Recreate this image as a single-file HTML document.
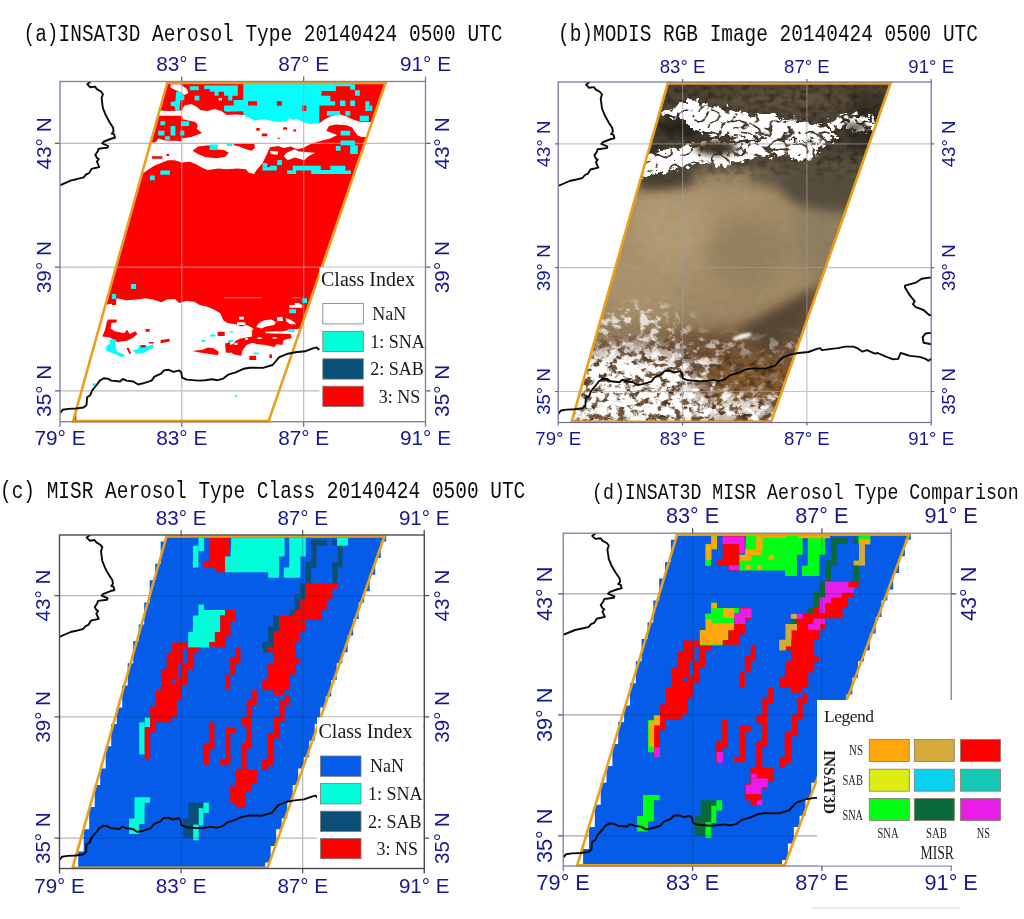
<!DOCTYPE html>
<html lang="en"><head><meta charset="utf-8"><title>Aerosol type comparison</title>
<style>html,body{margin:0;padding:0;background:#fff}svg{display:block}</style></head>
<body>
<svg width="1024" height="919" viewBox="0 0 1024 919">
<rect width="1024" height="919" fill="#fff"/>
<defs>
<clipPath id="fra"><rect x="60" y="81.5" width="365.5" height="340.2"/></clipPath>
<clipPath id="swa"><polygon points="167.2,81.5 385.6,81.5 268.6,421.8 73.1,421.8"/></clipPath>
<clipPath id="frb"><rect x="558.2" y="82" width="373" height="340.5"/></clipPath>
<clipPath id="swb"><polygon points="667.7,82 890.5,82 771.2,422.5 571.6,422.5"/></clipPath>
<clipPath id="frc"><rect x="59.5" y="535" width="364.8" height="333.5"/></clipPath>
<clipPath id="swc"><polygon points="166.5,535 384.4,535 267.7,868.5 72.6,868.5"/></clipPath>
<clipPath id="frd"><rect x="563.2" y="533.2" width="388" height="332.8"/></clipPath>
<clipPath id="swd"><polygon points="677.1,533.2 908.9,533.2 784.7,866 577.2,866"/></clipPath>

<linearGradient id="bg0" gradientUnits="userSpaceOnUse" x1="0" y1="84" x2="0" y2="422">
<stop offset="0" stop-color="#4a4132"/><stop offset="0.08" stop-color="#51483a"/><stop offset="0.2" stop-color="#453d2f"/>
<stop offset="0.235" stop-color="#5e523f"/><stop offset="0.275" stop-color="#8f7b5b"/><stop offset="0.33" stop-color="#a48d68"/>
<stop offset="0.56" stop-color="#a9926c"/><stop offset="0.68" stop-color="#9d8764"/><stop offset="0.76" stop-color="#8b7454"/>
<stop offset="0.84" stop-color="#7a5f40"/><stop offset="1" stop-color="#74583a"/></linearGradient>
<filter id="bl1" x="-30%" y="-80%" width="160%" height="260%"><feGaussianBlur stdDeviation="0.8"/></filter>
<filter id="bl3" x="-50%" y="-80%" width="200%" height="260%"><feGaussianBlur stdDeviation="3"/></filter>
<filter id="bl6" x="-60%" y="-120%" width="220%" height="340%"><feGaussianBlur stdDeviation="6"/></filter>
<filter id="bl10" x="-80%" y="-120%" width="260%" height="340%"><feGaussianBlur stdDeviation="10"/></filter>
<filter id="snow" x="-10%" y="-30%" width="120%" height="160%">
<feTurbulence type="fractalNoise" baseFrequency="0.13 0.16" numOctaves="3" seed="7" result="n"/>
<feDisplacementMap in="SourceGraphic" in2="n" scale="15" xChannelSelector="R" yChannelSelector="G" result="d"/>
<feTurbulence type="turbulence" baseFrequency="0.07 0.09" numOctaves="2" seed="5" result="n2"/>
<feColorMatrix in="n2" type="matrix" values="0 0 0 0 1  0 0 0 0 1  0 0 0 0 1  11 0 0 0 -0.85" result="a"/>
<feComposite in="d" in2="a" operator="in" result="c"/>
<feGaussianBlur in="c" stdDeviation="0.6"/></filter>
<filter id="specks" x="0" y="0" width="100%" height="100%" color-interpolation-filters="sRGB">
<feTurbulence type="fractalNoise" baseFrequency="0.1 0.12" numOctaves="4" seed="11" result="n"/>
<feColorMatrix in="n" type="matrix" values="0 0 0 0 1  0 0 0 0 1  0 0 0 0 1  6 0 0 0 -3.1"/>
<feGaussianBlur stdDeviation="0.6"/></filter>
<filter id="specks2" x="0" y="0" width="100%" height="100%" color-interpolation-filters="sRGB">
<feTurbulence type="fractalNoise" baseFrequency="0.12 0.14" numOctaves="4" seed="23" result="n"/>
<feColorMatrix in="n" type="matrix" values="0 0 0 0 1  0 0 0 0 1  0 0 0 0 1  0 7 0 0 -2.75"/>
<feGaussianBlur stdDeviation="0.6"/></filter>
<filter id="tex" x="0" y="0" width="100%" height="100%" color-interpolation-filters="sRGB">
<feTurbulence type="fractalNoise" baseFrequency="0.12 0.16" numOctaves="3" seed="3" result="n"/>
<feColorMatrix in="n" type="matrix" values="0 0 0 0 0.13  0 0 0 0 0.1  0 0 0 0 0.06  0 0 1.5 0 -0.62"/></filter>
<linearGradient id="mk1" gradientUnits="userSpaceOnUse" x1="0" y1="300" x2="0" y2="422">
<stop offset="0" stop-color="#000"/><stop offset="0.25" stop-color="#555"/><stop offset="0.55" stop-color="#fff"/><stop offset="1" stop-color="#fff"/></linearGradient>
<mask id="mcloud" maskUnits="userSpaceOnUse" x="540" y="280" width="300" height="150">
<rect x="540" y="280" width="300" height="150" fill="url(#mk1)"/>
<ellipse cx="640" cy="325" rx="48" ry="20" fill="#bbb" filter="url(#bl6)"/>
<ellipse cx="764" cy="370" rx="52" ry="24" fill="#000" opacity="0.85" filter="url(#bl10)"/>
<polygon points="690,290 840,270 840,330 760,338 700,332" fill="#000" filter="url(#bl6)"/>
</mask>
<linearGradient id="mk3" gradientUnits="userSpaceOnUse" x1="0" y1="84" x2="0" y2="422">
<stop offset="0" stop-color="#fff"/><stop offset="0.22" stop-color="#fff"/><stop offset="0.3" stop-color="#101010"/><stop offset="0.75" stop-color="#101010"/><stop offset="0.83" stop-color="#fff"/><stop offset="1" stop-color="#fff"/></linearGradient>
<mask id="mtex" maskUnits="userSpaceOnUse" x="560" y="80" width="340" height="345"><rect x="560" y="80" width="340" height="345" fill="url(#mk3)"/></mask>
<mask id="mcloud2" maskUnits="userSpaceOnUse" x="540" y="280" width="300" height="150">
<polygon points="560,352 640,345 684,356 698,392 728,430 560,430" fill="#fff" filter="url(#bl10)"/>
<ellipse cx="735" cy="408" rx="40" ry="14" fill="#ccc" filter="url(#bl6)"/>
</mask>

</defs>
<g id="pa">
<polygon points="167.2,83 385.6,83 268.6,421.1 73.1,421.1" fill="#ff0000"/>
<g clip-path="url(#swa)">
<polygon points="204.2,85.5 237.8,85.5 237.8,95.8 232.3,95.8 232.3,100.6 228.2,100.6 228.2,95.8 224.1,95.8 224.1,91.7 218.6,91.7 218.6,95.8 214.5,95.8 214.5,91.7 209.7,91.7 209.7,89 204.2,89" fill="#00ffff"/>
<polygon points="243.3,83.5 335.9,83.5 335.9,91 321.5,91 321.5,95.8 330.4,95.8 330.4,101.3 335.2,101.3 335.2,105.4 319.4,105.4 319.4,125.3 246,125.3 246,119.2 243.3,115 243.3,111.6 229.6,112.3 224.1,110.9 224.1,105.4 233.7,105.4 233.7,99.9 243.3,99.9" fill="#00ffff"/>
<polygon points="335.9,83.5 351,83.5 351,86.2 335.9,86.2" fill="#00ffff"/>
<polygon points="248.1,101.3 257,101.3 257,105.4 248.1,105.4" fill="#ff0000"/>
<polygon points="276.9,101.3 281.7,101.3 281.7,105.4 276.9,105.4" fill="#ff0000"/>
<polygon points="228.9,111.6 243.3,111.6 243.3,115 228.9,115" fill="#ff0000"/>
<polygon points="276.9,101.6 281.7,101.6 281.7,105.4 276.9,105.4" fill="#ff0000"/>
<polygon points="302.3,105.4 306.4,105.4 306.4,110.9 302.3,110.9" fill="#ff0000"/>
<polygon points="218.6,97.9 222,97.9 222,100.6 218.6,100.6" fill="#ffffff"/>
<polygon points="189.8,86.2 198.7,86.2 198.7,90.3 189.8,90.3" fill="#00ffff"/>
<polygon points="194.6,95.8 199.4,95.8 199.4,100.6 194.6,100.6" fill="#00ffff"/>
<polygon points="176.1,91.7 179.5,91.7 184.3,95.8 184.3,99.9 180.2,100.6 179.5,110.2 175.4,110.9 174.7,106.8 170.6,105.4 170.6,102 175.4,101.3" fill="#00ffff"/>
<polygon points="350.2,84.2 355,84.2 355,89.7 350.2,89.7" fill="#00ffff"/>
<polygon points="355,90.3 359.8,90.3 359.8,95.8 355,95.8" fill="#00ffff"/>
<polygon points="340,100.6 345.4,100.6 345.4,106.1 340,106.1" fill="#00ffff"/>
<polygon points="350.2,100.6 355,100.6 355,106.1 350.2,106.1" fill="#00ffff"/>
<polygon points="365.3,101.3 369.5,101.3 369.5,110.9 365.3,110.9" fill="#00ffff"/>
<polygon points="369.5,105.4 372.2,105.4 372.2,110.9 369.5,110.9" fill="#00ffff"/>
<polygon points="326.9,110.9 340,110.9 340,115.7 326.9,115.7" fill="#00ffff"/>
<polygon points="345.4,110.9 350.2,110.9 350.2,115.7 345.4,115.7" fill="#00ffff"/>
<polygon points="359.8,115.7 368.8,115.7 368.8,121.2 359.8,121.2" fill="#00ffff"/>
<polygon points="340.6,130.8 350.2,130.8 350.2,135.6 340.6,135.6" fill="#00ffff"/>
<polygon points="340.6,140.4 355,140.4 355,145.2 340.6,145.2" fill="#00ffff"/>
<polygon points="350.2,145.2 357.8,145.2 357.8,154.1 350.2,154.1" fill="#00ffff"/>
<polygon points="335.8,145.9 340.6,145.9 340.6,150.7 335.8,150.7" fill="#00ffff"/>
<polygon points="155.5,110.6 170.6,110.9 181.8,110.4 184.3,105.4 191.2,104.1 196.6,106.8 200.8,110.2 207.6,110.9 214.5,108.9 221.3,110.9 226.8,115 235,114.4 243.3,115 248.8,117.8 254.3,120.5 263.9,119.2 269.3,120.5 278.9,121.9 287.2,120.8 289.2,117.8 292.7,119.8 297.5,119.2 302.9,121.9 309.8,124 319.4,123.3 324.9,119.2 330.4,116.4 340,114.4 346.8,116.4 352.3,119.2 360.6,121.9 375,121.9 369.5,137 361.9,137 357.8,135.6 355.1,132.2 352.3,127.4 346.8,125.3 335.9,124.6 329,126 326.3,130.8 331.8,132.9 337.2,134.9 330.4,138.4 322.2,140.4 311.2,143.8 302.9,148 297.5,149.3 290.6,146.6 283.7,148 278.3,145.9 270,147.3 266.6,154.8 262.5,163 255.6,171.3 254.3,174 248.8,172.7 246,169.2 237.8,168.5 226.8,169.2 218.6,168.5 207.6,169.9 202.1,167.8 196.6,164.4 189.8,161.7 181.6,162.4 174.7,160.3 167.8,160.3 161,163 154.1,165.8 141.8,174 141.8,110.6" fill="#ffffff"/>
<polygon points="170.6,84.2 180.2,84.2 187,89 188.4,93.1 184.3,95.1 179.5,91.7 174.7,89.7 170.6,87.6" fill="#ffffff"/>
<polygon points="286.5,152.8 294.7,149.3 298.8,151.4 315.3,152.8 308.4,156.2 304.3,160.3 294.7,157.6 287.8,160.3 283.7,156.2" fill="#ffffff"/>
<polygon points="270,150.7 278.3,151.4 277.6,154.8 270.7,154.1" fill="#ffffff"/>
<polygon points="155.5,115.7 181.6,115.7 182.9,119.2 195.3,121.9 198,125.3 196.6,128.8 202.1,132.9 196.6,134.9 191.2,137 181.6,138.4 181.6,141.1 165.1,140.4 158.2,138.4 155.5,142.5 147.3,142.5 147.3,115.7" fill="#ff0000"/>
<polygon points="192.5,150.7 198,146.6 209,145.2 214.5,149.3 224.1,150 228.9,152.8 224.8,156.9 215.8,158.2 204.9,156.9 198,154.1" fill="#ff0000"/>
<polygon points="233.7,143.8 254.3,143.8 254.9,148 251.5,150.7 246,149.3 239.2,146.6 233.7,145.2" fill="#ff0000"/>
<polygon points="152.1,156.2 162.3,156.2 162.3,158.7 152.1,158.7" fill="#ff0000"/>
<polygon points="256.3,128.1 259.7,128.1 259.7,130.8 256.3,130.8" fill="#ff0000"/>
<polygon points="261.8,133.6 267.3,133.6 267.3,136.3 261.8,136.3" fill="#ff0000"/>
<polygon points="283.1,127.4 287.2,127.4 287.2,129.4 283.1,129.4" fill="#ff0000"/>
<polygon points="283.7,127.4 286.5,127.4 286.5,129.2 283.7,129.2" fill="#ff0000"/>
<polygon points="293.3,129.4 296.1,129.4 296.1,131.5 293.3,131.5" fill="#ff0000"/>
<polygon points="277.6,137.7 279.6,137.7 279.6,139 277.6,139" fill="#ff0000"/>
<polygon points="166.5,154.1 169.2,154.1 169.2,155.9 166.5,155.9" fill="#ff0000"/>
<polygon points="160.3,121.2 165.1,121.2 165.1,125.3 160.3,125.3" fill="#00ffff"/>
<polygon points="180.9,121.2 189.1,121.2 189.1,126 180.9,126" fill="#00ffff"/>
<polygon points="170.6,126 175.4,126 175.4,135.6 170.6,135.6" fill="#00ffff"/>
<polygon points="158.2,130.8 164.4,130.8 164.4,135.6 158.2,135.6" fill="#00ffff"/>
<polygon points="180.2,130.8 184.3,130.8 184.3,135.6 180.2,135.6" fill="#00ffff"/>
<polygon points="165.1,136.3 169.9,136.3 169.9,139.7 165.1,139.7" fill="#00ffff"/>
<polygon points="209.7,144.5 217.9,144.5 217.9,150 209.7,150" fill="#00ffff"/>
<polygon points="226.8,143.6 232.3,143.6 232.3,145.9 226.8,145.9" fill="#00ffff"/>
<polygon points="160.3,170.6 169.9,170.6 169.9,174.7 160.3,174.7" fill="#00ffff"/>
<polygon points="150,175.4 154.8,175.4 154.8,180.2 150,180.2" fill="#00ffff"/>
<polygon points="262.5,163 267.3,163 267.3,167.2 262.5,167.2" fill="#00ffff"/>
<polygon points="262.5,167.2 276.2,167.2 276.2,170.6 262.5,170.6" fill="#00ffff"/>
<polygon points="277.6,160.3 281.7,160.3 281.7,165.1 277.6,165.1" fill="#00ffff"/>
<polygon points="287.2,170.6 290.1,170.6 290.1,174 287.2,174" fill="#00ffff"/>
<polygon points="270,165.8 276.9,165.8 276.9,169.9 270,169.9" fill="#00ffff"/>
<polygon points="277.5,160.3 281.7,160.3 281.7,165.1 277.5,165.1" fill="#00ffff"/>
<polygon points="287.8,170.6 292.6,170.6 292.6,165.8 320.8,165.8 320.8,169.9 330.4,169.9 330.4,165.8 345.4,165.8 345.4,170.6 350.9,170.6 350.9,174 311.2,174 311.2,170.6 296.1,170.6 296.1,174 287.8,174" fill="#00ffff"/>
<polygon points="131,284 136,284 136,289 131,289" fill="#00ffff"/>
<polygon points="76.3,305.1 103.7,305.1 111.9,303.7 117.4,298.2 125.7,300.3 138,299.6 144.9,298.2 153.1,299.6 161.3,302.3 166.8,299.6 175,298.9 179.2,303 186,301 194.3,301.7 199.7,305.1 206.6,306.5 213.5,309.2 220.3,313.3 223.3,320.2 227.4,322.9 235.7,324.3 241.2,326.4 246.7,325 252.1,327.7 254.9,331.2 265.6,331.8 282,331.2 296,329.1 315,327 315,421.7 76.3,421.7" fill="#ffffff"/>
<polygon points="256.2,327 259,322.9 264.5,320.2 271.3,319.5 276.1,322.2 274.1,325 265.8,326.4 261.7,328.4" fill="#ffffff"/>
<polygon points="276.8,317.4 282.3,316.7 283,320.9 277.5,321.3" fill="#ffffff"/>
<polygon points="285.7,318.1 289.8,319.5 294.7,322.2 296,324.3 290.5,324.3 286.4,321.6" fill="#ffffff"/>
<polygon points="237,322.2 245.3,322.2 245.3,325 237,325" fill="#ffffff"/>
<polygon points="239.1,316.7 243.9,316.7 243.9,319.5 239.1,319.5" fill="#ffffff"/>
<polygon points="289.2,305.1 294.7,305.1 294.7,303 298.8,303 302.2,305.1 302.2,307.8 289.2,307.8" fill="#ffffff"/>
<polygon points="107.8,319.5 116.7,319.5 116.7,322.2 111.3,322.9 110.6,328.4 114.7,331.2 124.3,333.2 127,329.8 129.8,333.9 135.3,331.2 137.3,333.9 133.9,337.3 127,340.8 117.4,342.1 109.2,337.3 102.3,336.6 105.1,329.8 106.5,322.9" fill="#ff0000"/>
<polygon points="111.9,298.9 116.1,298.9 116.1,305.1 111.9,305.1" fill="#ff0000"/>
<polygon points="126.4,348.3 128.4,347.6 131.2,353.1 129.8,354.2" fill="#ff0000"/>
<polygon points="145.6,329.1 149.7,329.1 149.7,331.8 145.6,331.8" fill="#ff0000"/>
<polygon points="140.8,344.9 145.6,344.9 145.6,347.6 140.8,347.6" fill="#ff0000"/>
<polygon points="149,342.1 153.8,342.1 153.8,343.5 149,343.5" fill="#ff0000"/>
<polygon points="160.6,340.1 169.6,338.7 169.6,341.4 160.6,343.2" fill="#ff0000"/>
<polygon points="192.2,351 202.5,349.7 208,347.6 213.5,348.3 218.9,351.7 217.6,355.2 213.5,354.5 208,353.8 199.7,352.4" fill="#ff0000"/>
<polygon points="217.6,332.5 220.3,332.5 220.3,334.6 217.6,334.6" fill="#ff0000"/>
<polygon points="220.3,333.9 223.7,333.9 223.7,336 220.3,336" fill="#ff0000"/>
<polygon points="239.8,338.7 252.1,336.6 252.1,329.8 264.5,329.8 265.8,333.2 290.5,333.9 291.9,338 283.7,340.1 282.3,344.9 276.8,344.2 274.1,346.9 265.8,344.9 257.6,344.2 252.1,342.8 246.6,344.9 242.5,350.4 241.2,355.8 234.3,354.5 227.4,350.4 225.4,345.6 232.9,344.2 235.7,340.8" fill="#ff0000"/>
<polygon points="249.4,355.8 256.2,355.8 256.2,360 249.4,360" fill="#ff0000"/>
<polygon points="269.3,354.5 272,354.5 272,357.9 269.3,357.9" fill="#ff0000"/>
<polygon points="217.8,331.8 224.7,331.8 224.7,336 217.8,336" fill="#ff0000"/>
<polygon points="225.1,343.5 230.1,342.1 230.1,353.1 225.8,352.4" fill="#ff0000"/>
<polygon points="245.3,338 248,338 248,340.1 245.3,340.1" fill="#ffffff"/>
<polygon points="257.6,337.3 261.7,337.3 261.7,339.1 257.6,339.1" fill="#ffffff"/>
<polygon points="272.7,337.3 276.8,337.3 276.8,338.7 272.7,338.7" fill="#ffffff"/>
<polygon points="234.3,342.8 237.7,342.8 237.7,344.9 234.3,344.9" fill="#ffffff"/>
<polygon points="111.9,294.1 116.1,294.1 116.1,298.9 111.9,298.9" fill="#00ffff"/>
<polygon points="109.2,339.4 116.1,339.4 115.4,346.2 117.4,351.7 125.7,355.2 121.6,357.2 116.1,354.5 110.6,352.4 105.8,350.4 106.5,346.2 109.9,343.5" fill="#00ffff"/>
<polygon points="132.5,350.4 138,349 139.4,344.9 147.6,346.2 153.1,344.2 153.8,347.6 147.6,350.4 144.9,352.4 136.6,353.8" fill="#00ffff"/>
<polygon points="140.8,344.9 145.6,344.9 145.6,347.6 140.8,347.6" fill="#ff0000"/>
<polygon points="210,334.6 215.5,334.6 215.5,336.6 210,336.6" fill="#00ffff"/>
<polygon points="201.8,340.1 205.2,340.1 205.2,342.1 201.8,342.1" fill="#00ffff"/>
<polygon points="92.7,383.3 95.5,383.3 95.5,386 92.7,386" fill="#00ffff"/>
<polygon points="302.2,298.2 307,298.2 307,303 302.2,303" fill="#00ffff"/>
<polygon points="289.2,309.2 296,309.2 296,313.3 289.2,313.3" fill="#00ffff"/>
<polygon points="287.8,329.1 294.7,329.1 294.7,331.8 287.8,331.8" fill="#00ffff"/>
<polygon points="229.5,331.2 233.6,331.2 233.6,332.5 229.5,332.5" fill="#00ffff"/>
<polygon points="228.1,340.1 232.9,340.1 232.9,341.9 228.1,341.9" fill="#00ffff"/>
<polygon points="253.5,352.4 259,352.4 259,354.2 253.5,354.2" fill="#00ffff"/>
<polygon points="235,394.9 237,394.9 237,397 235,397" fill="#00ffff"/>
<line x1="224" y1="297.8" x2="261.7" y2="297.8" stroke="#ff9c8c" stroke-width="0.8"/>
<line x1="291.9" y1="297.8" x2="301.5" y2="297.8" stroke="#ff9c8c" stroke-width="0.8"/>
</g>
<path d="M181.8 81.5V421.8M303.7 81.5V421.8M60 143.4H425.5M60 267.1H425.5M60 390.8H425.5" stroke="#a2a2a2" stroke-opacity="0.72" stroke-width="1.2" fill="none"/>
<path d="M181.8 76.5V81.5M181.8 421.8V426.8M303.7 76.5V81.5M303.7 421.8V426.8M55 143.4H60M425.5 143.4H430.5M55 267.1H60M425.5 267.1H430.5M55 390.8H60M425.5 390.8H430.5" stroke="#5a5890" stroke-width="1.2" fill="none"/>
<polygon points="167.2,83 385.6,83 268.6,421.1 73.1,421.1" fill="none" stroke="#e9a01c" stroke-width="2.6" stroke-linejoin="miter"/>
<polyline points="91.6,80.5 87.3,84.2 90.2,87.3 95,86.6 96.9,89.1 101,91.5 102.9,94 101.6,98.2 102.9,108 105.8,115.3 109.4,122 113,127.5 113.6,131.2 111.8,133.6 114.1,134.2 115,137.9 111.8,138.5 104,141.5 102.2,143.4 108.2,146 107.6,147.6 98.7,148.8 97.5,151.8 95.3,154.8 96.9,157.9 98.7,159.1 96.9,161.5 99.2,167 91.5,168.9 89.1,173.1 86.1,174.4 83.7,177.4 76.5,179.2 71.1,180.4 60,185.3" fill="none" stroke="#0a0a0a" stroke-width="1.9" stroke-linejoin="round" clip-path="url(#fra)"/>
<polyline points="60,413.1 62.6,409.8 68.3,408.9 75.9,408.5 83.6,407.5 86.5,405 87.1,397.2 90.3,395.2 92.2,390.3 97,384.5 99.8,380.6 103.8,378.2 107.6,378.6 111.4,380.6 120,381.5 122.9,379 126.7,380.6 133.3,381.5 138.1,384.5 144.8,382.9 151.6,380.6 154.4,376.6 161.1,373.7 164,370.4 168.8,369.8 173.5,371.8 179.3,370.4 181.3,372.7 182.1,377.6 186.9,379.6 198.4,380.6 205.2,380.2 211.8,379.2 217.6,380.2 223.3,378.6 228.1,374.7 235.7,372.3 243.4,368.8 250.1,367.7 263,367.9 272.6,365 279.3,357.2 287.9,353.7 295.5,352.3 305.1,351.3 312.8,348.4 316.6,347.4 318.4,349.4 326.1,348.4 333.8,347.4 341.5,345.9 349.1,345.9 352.9,347.4 357.7,350.9 362.5,349.4 370.2,352.9 373,352.3 381.6,356.2 388.3,358.6 393.1,358.2 395.4,352.3 398.9,353.3 404.6,355.2 414.2,356.2 419.9,358.2 422.8,360.1 425.5,358" fill="none" stroke="#0a0a0a" stroke-width="1.9" stroke-linejoin="round" clip-path="url(#fra)"/>
<polyline points="425.5,276.8 416,278.2 410.4,282.1 399.8,285 399.8,286.9 404.6,294.7 409.4,300.6 407.5,303.5 410.4,306.4 418,309.3 422.8,313.8 425.5,314.8" fill="none" stroke="#0a0a0a" stroke-width="1.9" stroke-linejoin="round" clip-path="url(#fra)"/>
<polyline points="425.5,332.2 419.9,332.8 417,336.7 418,342 425.5,343.5" fill="none" stroke="#0a0a0a" stroke-width="1.9" stroke-linejoin="round" clip-path="url(#fra)"/>
<rect x="319.5" y="267.6" width="105.5" height="153.6" fill="#fff"/>
<text x="321" y="285.5" style="font-family:'Liberation Serif',serif;fill:#1a1a1a;font-size:20px">Class Index</text>
<rect x="322.8" y="303.6" width="40.5" height="20.3" fill="#ffffff" stroke="#7a7a7a" stroke-width="0.8"/>
<text x="372.3" y="319.9" style="font-family:'Liberation Serif',serif;fill:#1a1a1a;font-size:18px">NaN</text>
<rect x="322.8" y="331.3" width="40.5" height="20.3" fill="#00ffd8" stroke="#7a7a7a" stroke-width="0.8"/>
<text x="370.3" y="347.6" style="font-family:'Liberation Serif',serif;fill:#1a1a1a;font-size:18px">1: SNA</text>
<rect x="322.8" y="358.8" width="40.5" height="20.3" fill="#0b4f78" stroke="#7a7a7a" stroke-width="0.8"/>
<text x="370.3" y="375.1" style="font-family:'Liberation Serif',serif;fill:#1a1a1a;font-size:18px">2: SAB</text>
<rect x="322.8" y="386.2" width="40.5" height="20.3" fill="#ff0000" stroke="#7a7a7a" stroke-width="0.8"/>
<text x="378.8" y="402.5" style="font-family:'Liberation Serif',serif;fill:#1a1a1a;font-size:18px">3: NS</text>
<rect x="60" y="81.5" width="365.5" height="340.2" fill="none" stroke="#8482a6" stroke-width="1.4"/>
<path d="M425.5 76.5V81.5M60 421.8V426.8M425.5 421.8V426.8" stroke="#8482a6" stroke-width="1.4" fill="none"/>
<text x="181.8" y="71.2" text-anchor="middle" style="font-family:'Liberation Sans',sans-serif;font-size:20.8px;fill:#17178f">83° E</text>
<text x="303.7" y="71.2" text-anchor="middle" style="font-family:'Liberation Sans',sans-serif;font-size:20.8px;fill:#17178f">87° E</text>
<text x="425.5" y="71.2" text-anchor="middle" style="font-family:'Liberation Sans',sans-serif;font-size:20.8px;fill:#17178f">91° E</text>
<text x="60" y="445" text-anchor="middle" style="font-family:'Liberation Sans',sans-serif;font-size:20.8px;fill:#17178f">79° E</text>
<text x="181.8" y="445" text-anchor="middle" style="font-family:'Liberation Sans',sans-serif;font-size:20.8px;fill:#17178f">83° E</text>
<text x="303.7" y="445" text-anchor="middle" style="font-family:'Liberation Sans',sans-serif;font-size:20.8px;fill:#17178f">87° E</text>
<text x="425.5" y="445" text-anchor="middle" style="font-family:'Liberation Sans',sans-serif;font-size:20.8px;fill:#17178f">91° E</text>
<text transform="translate(51 143.4) rotate(-90)" text-anchor="middle" style="font-family:'Liberation Sans',sans-serif;font-size:20.8px;fill:#17178f">43° N</text>
<text transform="translate(448.5 143.4) rotate(-90)" text-anchor="middle" style="font-family:'Liberation Sans',sans-serif;font-size:20.8px;fill:#17178f">43° N</text>
<text transform="translate(51 267.1) rotate(-90)" text-anchor="middle" style="font-family:'Liberation Sans',sans-serif;font-size:20.8px;fill:#17178f">39° N</text>
<text transform="translate(448.5 267.1) rotate(-90)" text-anchor="middle" style="font-family:'Liberation Sans',sans-serif;font-size:20.8px;fill:#17178f">39° N</text>
<text transform="translate(51 390.8) rotate(-90)" text-anchor="middle" style="font-family:'Liberation Sans',sans-serif;font-size:20.8px;fill:#17178f">35° N</text>
<text transform="translate(448.5 390.8) rotate(-90)" text-anchor="middle" style="font-family:'Liberation Sans',sans-serif;font-size:20.8px;fill:#17178f">35° N</text>
<text x="23.5" y="0" transform="translate(0 41) scale(1 1.2)" style="font-family:'Liberation Mono',monospace;font-size:19.47px;fill:#0c0c0c">(a)INSAT3D Aerosol Type 20140424 0500 UTC</text>
</g>
<g id="pb">
<polygon points="667.7,83.5 890.5,83.5 771.2,421.8 571.6,421.8" fill="url(#bg0)"/>
<g clip-path="url(#swb)">
<ellipse cx="672" cy="225" rx="42" ry="45" fill="#b8a079" opacity="0.7" filter="url(#bl10)"/>
<ellipse cx="748" cy="255" rx="42" ry="34" fill="#8c7a5b" opacity="0.65" filter="url(#bl10)"/>
<ellipse cx="720" cy="195" rx="50" ry="16" fill="#ab9670" opacity="0.6" filter="url(#bl10)"/>
<ellipse cx="640" cy="290" rx="40" ry="30" fill="#ad9570" opacity="0.7" filter="url(#bl10)"/>
<ellipse cx="835" cy="235" rx="42" ry="60" fill="#8b7a5e" opacity="0.8" filter="url(#bl10)"/>
<ellipse cx="828" cy="188" rx="46" ry="20" fill="#4f483b" opacity="0.85" filter="url(#bl6)"/>
<ellipse cx="790" cy="178" rx="40" ry="9" fill="#5b5344" opacity="0.8" filter="url(#bl6)"/>
<ellipse cx="785" cy="99" rx="75" ry="9" fill="#64563f" opacity="0.85" filter="url(#bl6)"/>
<ellipse cx="683" cy="127" rx="26" ry="11" fill="#2c281f" opacity="0.9" filter="url(#bl3)"/>
<ellipse cx="866" cy="125" rx="20" ry="30" fill="#2f2b22" opacity="0.8" filter="url(#bl6)"/>
<ellipse cx="665" cy="180" rx="30" ry="8" fill="#3c382c" opacity="0.8" filter="url(#bl6)"/>
<polygon points="770,150 900,150 900,218 850,215 800,200 775,178" fill="#574e3e" opacity="0.7" filter="url(#bl6)"/>
<polygon points="640,160 700,165 690,180 640,190" fill="#423c2e" opacity="0.8" filter="url(#bl6)"/>
<polygon points="560,348 600,340 680,333 740,328 790,302 830,280 830,430 560,430" fill="#73553a" filter="url(#bl6)"/>
<ellipse cx="752" cy="382" rx="48" ry="24" fill="#8a5c2c" opacity="0.8" filter="url(#bl10)"/>
<polygon points="740,330 790,303 815,288 800,330 770,350" fill="#4a4232" opacity="0.7" filter="url(#bl6)"/>
<g mask="url(#mtex)"><rect x="560" y="80" width="340" height="345" filter="url(#tex)"/></g>
<g filter="url(#snow)" fill="#fff">
<polygon points="661,113 686,101 699,100 716,107 734,111 754,115 772,115 782,119 802,120 818,124 833,132 840,140 818,142 792,138 772,141 760,136 741,138 724,136 706,135 697,129 685,121 670,116"/>
<polygon points="640,158 662,150 690,144 712,141 738,143 760,139 790,140 826,143 812,153 806,159 775,154 745,160 726,166 700,164 672,169 640,178"/>
<polygon points="828,122 850,113 874,120 881,130 862,132 846,127 832,131"/>
<polygon points="785,152 812,148 817,157 795,162"/>
</g>
<ellipse cx="716" cy="148" rx="21" ry="7.5" fill="#3e3121" filter="url(#bl3)"/>
<ellipse cx="855" cy="127" rx="12" ry="4" fill="#3a3428" opacity="0.9" filter="url(#bl3)"/>
<g mask="url(#mcloud)"><rect x="540" y="280" width="300" height="150" filter="url(#specks)"/></g>
<g mask="url(#mcloud2)"><rect x="540" y="280" width="300" height="150" filter="url(#specks2)"/></g>
<ellipse cx="742" cy="336.5" rx="10" ry="2.6" transform="rotate(-16 742 336.5)" fill="#f6f2ea" filter="url(#bl1)"/>
</g>
<path d="M682.6 82V422.5M806.9 82V422.5M558.2 143.9H931.2M558.2 267.7H931.2M558.2 391.5H931.2" stroke="#9c9c9c" stroke-opacity="0.6" stroke-width="1.2" fill="none"/>
<path d="M682.6 79V82M682.6 422.5V425.5M806.9 79V82M806.9 422.5V425.5M555.2 143.9H558.2M931.2 143.9H934.2M555.2 267.7H558.2M931.2 267.7H934.2M555.2 391.5H558.2M931.2 391.5H934.2" stroke="#5a5890" stroke-width="1.2" fill="none"/>
<polygon points="667.7,83.5 890.5,83.5 771.2,421.8 571.6,421.8" fill="none" stroke="#e9a01c" stroke-width="2.6" stroke-linejoin="miter"/>
<polyline points="590.5,81 586.1,84.7 589.1,87.8 594,87.1 595.9,89.6 600.1,92 602,94.5 600.7,98.7 602,108.5 605,115.8 608.7,122.5 612.3,128 612.9,131.7 611.1,134.1 613.5,134.7 614.4,138.4 611.1,139 603.2,142 601.3,143.9 607.4,146.5 606.8,148.1 597.7,149.3 596.5,152.4 594.3,155.4 595.9,158.5 597.7,159.7 595.9,162.1 598.3,167.6 590.4,169.5 587.9,173.7 584.9,175 582.4,178 575.1,179.8 569.6,181 558.2,185.9" fill="none" stroke="#0a0a0a" stroke-width="1.9" stroke-linejoin="round" clip-path="url(#frb)"/>
<polyline points="558.2,413.8 560.9,410.5 566.7,409.6 574.5,409.2 582.3,408.2 585.3,405.7 585.9,397.9 589.2,395.9 591.1,391 596,385.2 598.9,381.3 602.9,378.9 606.8,379.3 610.7,381.3 619.5,382.2 622.4,379.7 626.3,381.3 633.1,382.2 638,385.2 644.8,383.6 651.7,381.3 654.6,377.3 661.4,374.4 664.4,371.1 669.3,370.5 674.1,372.5 680,371.1 682,373.4 682.9,378.3 687.8,380.3 699.5,381.3 706.4,380.9 713.2,379.9 719.1,380.9 724.9,379.3 729.8,375.4 737.6,373 745.4,369.5 752.3,368.4 765.4,368.6 775.2,365.7 782,357.9 790.8,354.4 798.6,353 808.4,352 816.2,349.1 820.1,348.1 822,350.1 829.8,349.1 837.7,348.1 845.5,346.6 853.3,346.6 857.2,348.1 862.1,351.6 867,350.1 874.8,353.6 877.7,353 886.5,356.9 893.3,359.3 898.2,358.9 900.5,353 904.1,354 909.9,355.9 919.7,356.9 925.5,358.9 928.5,360.8 931.3,358.7" fill="none" stroke="#0a0a0a" stroke-width="1.9" stroke-linejoin="round" clip-path="url(#frb)"/>
<polyline points="931.3,277.4 921.6,278.8 915.8,282.7 905,285.6 905,287.6 909.9,295.4 914.8,301.3 912.9,304.2 915.8,307.1 923.6,310 928.5,314.5 931.3,315.5" fill="none" stroke="#0a0a0a" stroke-width="1.9" stroke-linejoin="round" clip-path="url(#frb)"/>
<polyline points="931.3,332.9 925.5,333.5 922.6,337.4 923.6,342.7 931.3,344.2" fill="none" stroke="#0a0a0a" stroke-width="1.9" stroke-linejoin="round" clip-path="url(#frb)"/>
<rect x="558.2" y="82" width="373" height="340.5" fill="none" stroke="#6e6a98" stroke-width="1.2"/>
<path d="M931.2 79V82M558.2 422.5V425.5M931.2 422.5V425.5" stroke="#6e6a98" stroke-width="1.2" fill="none"/>
<text x="682.6" y="73" text-anchor="middle" style="font-family:'Liberation Sans',sans-serif;font-size:18.6px;fill:#17178f">83° E</text>
<text x="806.9" y="73" text-anchor="middle" style="font-family:'Liberation Sans',sans-serif;font-size:18.6px;fill:#17178f">87° E</text>
<text x="931.2" y="73" text-anchor="middle" style="font-family:'Liberation Sans',sans-serif;font-size:18.6px;fill:#17178f">91° E</text>
<text x="558.2" y="444.5" text-anchor="middle" style="font-family:'Liberation Sans',sans-serif;font-size:18.6px;fill:#17178f">79° E</text>
<text x="682.6" y="444.5" text-anchor="middle" style="font-family:'Liberation Sans',sans-serif;font-size:18.6px;fill:#17178f">83° E</text>
<text x="806.9" y="444.5" text-anchor="middle" style="font-family:'Liberation Sans',sans-serif;font-size:18.6px;fill:#17178f">87° E</text>
<text x="931.2" y="444.5" text-anchor="middle" style="font-family:'Liberation Sans',sans-serif;font-size:18.6px;fill:#17178f">91° E</text>
<text transform="translate(549.5 143.9) rotate(-90)" text-anchor="middle" style="font-family:'Liberation Sans',sans-serif;font-size:18.6px;fill:#17178f">43° N</text>
<text transform="translate(955 143.9) rotate(-90)" text-anchor="middle" style="font-family:'Liberation Sans',sans-serif;font-size:18.6px;fill:#17178f">43° N</text>
<text transform="translate(549.5 267.7) rotate(-90)" text-anchor="middle" style="font-family:'Liberation Sans',sans-serif;font-size:18.6px;fill:#17178f">39° N</text>
<text transform="translate(955 267.7) rotate(-90)" text-anchor="middle" style="font-family:'Liberation Sans',sans-serif;font-size:18.6px;fill:#17178f">39° N</text>
<text transform="translate(549.5 391.5) rotate(-90)" text-anchor="middle" style="font-family:'Liberation Sans',sans-serif;font-size:18.6px;fill:#17178f">35° N</text>
<text transform="translate(955 391.5) rotate(-90)" text-anchor="middle" style="font-family:'Liberation Sans',sans-serif;font-size:18.6px;fill:#17178f">35° N</text>
<text x="558" y="0" transform="translate(0 40.5) scale(1 1.2)" style="font-family:'Liberation Mono',monospace;font-size:19.44px;fill:#0c0c0c">(b)MODIS RGB Image 20140424 0500 UTC</text>
</g>
<g id="pc">
<path d="M181.1 535V868.5M302.7 535V868.5M59.5 595.6H424.2M59.5 716.9H424.2M59.5 838.2H424.2" stroke="#b8b8b8" stroke-opacity="1" stroke-width="1.2" fill="none"/>
<path d="M181.1 530V535M181.1 868.5V873.5M302.7 530V535M302.7 868.5V873.5M54.5 595.6H59.5M424.2 595.6H429.2M54.5 716.9H59.5M424.2 716.9H429.2M54.5 838.2H59.5M424.2 838.2H429.2" stroke="#55555f" stroke-width="1.2" fill="none"/>
<polygon points="386.2,536 386.2,541.5 380.7,541.5 380.7,547.1 380.7,547.1 380.7,552.6 380.7,552.6 380.7,558.1 375.2,558.1 375.2,563.7 375.2,563.7 375.2,569.2 375.2,569.2 375.2,574.7 369.7,574.7 369.7,580.3 369.7,580.3 369.7,585.8 369.7,585.8 369.7,591.3 364.2,591.3 364.2,596.9 364.2,596.9 364.2,602.4 358.7,602.4 358.7,607.9 358.7,607.9 358.7,613.5 358.7,613.5 358.7,619 353.2,619 353.2,624.5 353.2,624.5 353.2,630.1 353.2,630.1 353.2,635.6 347.7,635.6 347.7,641.1 347.7,641.1 347.7,646.7 347.7,646.7 347.7,652.2 342.2,652.2 342.2,657.7 342.2,657.7 342.2,663.3 336.7,663.3 336.7,668.8 336.7,668.8 336.7,674.3 336.7,674.3 336.7,679.9 331.2,679.9 331.2,685.4 331.2,685.4 331.2,690.9 331.2,690.9 331.2,696.5 325.7,696.5 325.7,702 325.7,702 325.7,707.5 320.2,707.5 320.2,713.1 320.2,713.1 320.2,718.6 320.2,718.6 320.2,724.1 314.7,724.1 314.7,729.7 314.7,729.7 314.7,735.2 314.7,735.2 314.7,740.7 309.2,740.7 309.2,746.3 309.2,746.3 309.2,751.8 309.2,751.8 309.2,757.3 303.7,757.3 303.7,762.9 303.7,762.9 303.7,768.4 298.2,768.4 298.2,773.9 298.2,773.9 298.2,779.5 298.2,779.5 298.2,785 292.7,785 292.7,790.5 292.7,790.5 292.7,796.1 292.7,796.1 292.7,801.6 287.2,801.6 287.2,807.1 287.2,807.1 287.2,812.7 287.2,812.7 287.2,818.2 281.7,818.2 281.7,823.7 281.7,823.7 281.7,829.3 276.2,829.3 276.2,834.8 276.2,834.8 276.2,840.3 276.2,840.3 276.2,845.9 270.7,845.9 270.7,851.4 270.7,851.4 270.7,856.9 270.7,856.9 270.7,862.5 265.2,862.5 265.2,868 78.2,868 78.2,862.5 78.2,862.5 78.2,856.9 78.2,856.9 78.2,851.4 83.7,851.4 83.7,845.9 83.7,845.9 83.7,840.3 83.7,840.3 83.7,834.8 83.7,834.8 83.7,829.3 89.2,829.3 89.2,823.7 89.2,823.7 89.2,818.2 89.2,818.2 89.2,812.7 89.2,812.7 89.2,807.1 94.7,807.1 94.7,801.6 94.7,801.6 94.7,796.1 94.7,796.1 94.7,790.5 94.7,790.5 94.7,785 100.2,785 100.2,779.5 100.2,779.5 100.2,773.9 100.2,773.9 100.2,768.4 105.7,768.4 105.7,762.9 105.7,762.9 105.7,757.3 105.7,757.3 105.7,751.8 105.7,751.8 105.7,746.3 111.2,746.3 111.2,740.7 111.2,740.7 111.2,735.2 111.2,735.2 111.2,729.7 111.2,729.7 111.2,724.1 116.7,724.1 116.7,718.6 116.7,718.6 116.7,713.1 116.7,713.1 116.7,707.5 122.2,707.5 122.2,702 122.2,702 122.2,696.5 122.2,696.5 122.2,690.9 122.2,690.9 122.2,685.4 127.7,685.4 127.7,679.9 127.7,679.9 127.7,674.3 127.7,674.3 127.7,668.8 127.7,668.8 127.7,663.3 133.2,663.3 133.2,657.7 133.2,657.7 133.2,652.2 133.2,652.2 133.2,646.7 133.2,646.7 133.2,641.1 138.7,641.1 138.7,635.6 138.7,635.6 138.7,630.1 138.7,630.1 138.7,624.5 144.2,624.5 144.2,619 144.2,619 144.2,613.5 144.2,613.5 144.2,607.9 144.2,607.9 144.2,602.4 149.7,602.4 149.7,596.9 149.7,596.9 149.7,591.3 149.7,591.3 149.7,585.8 149.7,585.8 149.7,580.3 155.2,580.3 155.2,574.7 155.2,574.7 155.2,569.2 155.2,569.2 155.2,563.7 160.7,563.7 160.7,558.1 160.7,558.1 160.7,552.6 160.7,552.6 160.7,547.1 160.7,547.1 160.7,541.5 166.2,541.5 166.2,536" fill="#055ce9"/>
<polygon points="198.4,537.8 203.9,537.8 203.9,551.2 198.4,551.2" fill="#00ffd8"/>
<polygon points="192.9,545.7 198.4,545.7 198.4,567.6 192.9,567.6" fill="#00ffd8"/>
<polygon points="209.4,537.8 229.7,537.8 229.7,555.9 225,555.9 225,572.3 214.9,572.3 214.9,567.6 203.9,567.6 203.9,562.1 209.4,562.1" fill="#ff0000"/>
<polygon points="231.3,537.8 284.6,537.8 284.6,556.6 279.1,556.6 279.1,577.8 268.2,577.8 268.2,572.3 225,572.3 225,556.6 230.5,556.6" fill="#00ffd8"/>
<polygon points="289.3,537.8 305.8,537.8 305.8,556.6 300.3,556.6 300.3,577.8 283.8,577.8 283.8,567.6 289.3,567.6" fill="#00ffd8"/>
<polygon points="198.4,604.5 203.9,604.5 203.9,609.9 225,609.9 225,615.4 220.3,615.4 220.3,631.9 214.9,631.9 214.9,642.1 209.4,642.1 209.4,647.6 188.2,647.6 188.2,631.9 192.9,631.9 192.9,615.4 198.4,615.4" fill="#00ffd8"/>
<polygon points="225,609.9 236,609.9 236,620.9 230.5,620.9 230.5,636.6 225,636.6 225,646.8 209.4,646.8 209.4,642.1 214.9,642.1 214.9,631.9 220.3,631.9 220.3,615.4 225,615.4" fill="#ff0000"/>
<polygon points="311.1,539.4 326.8,539.4 326.8,545.7 311.1,545.7" fill="#0b4f78"/>
<polygon points="311.1,545.7 316.6,545.7 316.6,567.6 311.1,567.6" fill="#0b4f78"/>
<polygon points="305.6,562.1 311.1,562.1 311.1,583.3 305.6,583.3" fill="#0b4f78"/>
<polygon points="300.2,583.3 305.6,583.3 305.6,599.3 300.2,599.3" fill="#0b4f78"/>
<polygon points="294.7,594.3 300.2,594.3 300.2,610.7 294.7,610.7" fill="#0b4f78"/>
<polygon points="289.2,609.9 295.5,609.9 295.5,616.2 289.2,616.2" fill="#0b4f78"/>
<polygon points="273.5,615.4 279.3,615.4 279.3,632.2 273.5,632.2" fill="#0b4f78"/>
<polygon points="268,626.4 273.8,626.4 273.8,647.9 268,647.9" fill="#0b4f78"/>
<polygon points="262.5,642.1 268.3,642.1 268.3,652.6 262.5,652.6" fill="#0b4f78"/>
<polygon points="332.3,539.4 337.8,539.4 337.8,545.7 332.3,545.7" fill="#0b4f78"/>
<polygon points="337.8,545.7 342.5,545.7 342.5,567.6 337.8,567.6" fill="#0b4f78"/>
<polygon points="332.3,562.1 337.8,562.1 337.8,584.1 332.3,584.1" fill="#0b4f78"/>
<polygon points="337,537.8 348,537.8 348,545.7 337,545.7" fill="#00ffd8"/>
<polygon points="305.6,583.3 337,583.3 337,588.8 332.3,588.8 332.3,599 326.8,599 326.8,609.9 322.1,609.9 322.1,620.1 305.6,620.1 305.6,631.1 300.2,631.1 300.2,642.1 295.5,642.1 295.5,658.5 300.2,658.5 300.2,663.2 295.5,663.2 295.5,674 268,674 268,664 273.5,664 273.5,652.3 268,652.3 268,647.6 273.5,647.6 273.5,631.1 279,631.1 279,615.4 294.7,615.4 294.7,609.9 300.2,609.9 300.2,599 305.6,599" fill="#ff0000"/>
<polygon points="267.8,671.3 295.2,671.3 295.2,674.5 289.7,674.5 289.7,690.2 284.3,690.2 284.3,694.9 273.3,694.9 273.3,690.2 262.3,690.2 262.3,680 267.8,680" fill="#ff0000"/>
<polygon points="284.6,695.6 289,695.6 289,705.8 284.6,705.8" fill="#ff0000"/>
<polygon points="279.2,700.3 284.6,700.3 284.6,721.8 279.2,721.8" fill="#ff0000"/>
<polygon points="273.8,716.8 279.9,716.8 279.9,738.4 273.8,738.4" fill="#ff0000"/>
<polygon points="267.8,733.3 273.8,733.3 273.8,765.1 267.8,765.1" fill="#ff0000"/>
<polygon points="262.3,759.9 268.3,759.9 268.3,770.1 262.3,770.1" fill="#ff0000"/>
<polygon points="252.1,690.2 256.8,690.2 256.8,705.8 252.1,705.8" fill="#ff0000"/>
<polygon points="246.6,700.3 252.1,700.3 252.1,717.1 246.6,717.1" fill="#ff0000"/>
<polygon points="241.2,717.1 251.3,717.1 251.3,726.2 241.2,726.2" fill="#ff0000"/>
<polygon points="246.6,726.2 251.3,726.2 251.3,743.8 246.6,743.8" fill="#ff0000"/>
<polygon points="241.2,743.4 246.6,743.4 246.6,770.9 241.2,770.9" fill="#ff0000"/>
<polygon points="235.7,770.1 256.8,770.1 256.8,784 235.7,784" fill="#ff0000"/>
<polygon points="235.7,647.8 240.4,647.8 240.4,663.5 235.7,663.5" fill="#ff0000"/>
<polygon points="230.2,658 235.7,658 235.7,674.5 230.2,674.5" fill="#ff0000"/>
<polygon points="225.5,674.5 230.2,674.5 230.2,689.4 225.5,689.4" fill="#ff0000"/>
<polygon points="225.5,727.8 235.7,727.8 235.7,733.3 225.5,733.3" fill="#ff0000"/>
<polygon points="225.5,733.3 230.2,733.3 230.2,764.6 225.5,764.6" fill="#ff0000"/>
<polygon points="220,759.1 225.5,759.1 225.5,764.6 220,764.6" fill="#ff0000"/>
<polygon points="139.2,722.3 144.7,722.3 144.7,754.4 139.2,754.4" fill="#00ffd8"/>
<polygon points="144.7,717.6 150.2,717.6 150.2,727 144.7,727" fill="#00ffd8"/>
<polygon points="172.1,642.4 187,642.4 187,647.8 198.7,647.8 198.7,652.5 193.3,652.5 193.3,669 187.8,669 187.8,684.7 181.5,684.7 181.5,700.3 176.8,700.3 176.8,716.8 171.3,716.8 171.3,722.3 155.6,722.3 155.6,732.5 150.2,732.5 150.2,759.1 144.7,759.1 144.7,727.8 150.2,727.8 150.2,706.6 155.6,706.6 155.6,690.2 161.1,690.2 161.1,669 166.6,669 166.6,653.3 172.1,653.3" fill="#ff0000"/>
<polygon points="182.8,648.6 187,648.6 187,663.5 182.8,663.5" fill="#055ce9"/>
<polygon points="178.4,663.5 181.5,663.5 181.5,678.4 178.4,678.4" fill="#055ce9"/>
<polygon points="172.1,680.1 175.9,680.1 175.9,683.9 172.1,683.9" fill="#055ce9"/>
<polygon points="208.9,722.3 214.4,722.3 214.4,749.7 208.9,749.7" fill="#ff0000"/>
<polygon points="203.4,743.4 208.9,743.4 208.9,764.6 203.4,764.6" fill="#ff0000"/>
<polygon points="134.5,797.2 150.1,797.2 150.1,802.7 144.6,802.7 144.6,823.9 139.2,823.9 139.2,834 129,834 129,818.4 134.5,818.4" fill="#00ffd8"/>
<polygon points="188.5,802.7 203.4,802.7 203.4,818.4 188.5,818.4" fill="#0b4f78"/>
<polygon points="183,818.4 193.2,818.4 193.2,838 183,838" fill="#0b4f78"/>
<polygon points="192.4,817.6 199,817.6 199,825.4 192.4,825.4" fill="#0b4f78"/>
<polygon points="203.4,802.7 208.9,802.7 208.9,812.9 203.4,812.9" fill="#00ffd8"/>
<polygon points="198.7,808.2 203.4,808.2 203.4,825.4 198.7,825.4" fill="#00ffd8"/>
<polygon points="193.2,824.6 198.7,824.6 198.7,840.3 193.2,840.3" fill="#00ffd8"/>
<polygon points="235.6,770.6 256.8,770.6 256.8,775.3 251.3,775.3 251.3,790.9 245.8,790.9 245.8,807.4 235.6,807.4 235.6,802.7 230.2,802.7 230.2,786.2 235.6,786.2" fill="#ff0000"/>
<polygon points="241.1,744.7 245.8,744.7 245.8,771.3 241.1,771.3" fill="#ff0000"/>
<polygon points="245.8,740 251.3,740 251.3,748.6 245.8,748.6" fill="#ff0000"/>
<polygon points="203.5,744.7 209,744.7 209,764.3 203.5,764.3" fill="#ff0000"/>
<polygon points="209,740 213.7,740 213.7,747.8 209,747.8" fill="#ff0000"/>
<polygon points="225.5,740 230.2,740 230.2,764.3 225.5,764.3" fill="#ff0000"/>
<polygon points="220,759.6 225.5,759.6 225.5,764.3 220,764.3" fill="#ff0000"/>
<polygon points="267.8,740 273.3,740 273.3,764.3 267.8,764.3" fill="#ff0000"/>
<polygon points="262.3,759.6 267.8,759.6 267.8,769.8 262.3,769.8" fill="#ff0000"/>
<path d="M181.1 535V868.5M302.7 535V868.5M59.5 595.6H424.2M59.5 716.9H424.2M59.5 838.2H424.2" stroke="#003a6a" stroke-opacity="0.3" stroke-width="1.2" fill="none" clip-path="url(#swc)"/>
<polygon points="166.5,536.5 384.4,536.5 267.7,867.8 72.6,867.8" fill="none" stroke="#e9a01c" stroke-width="2.6" stroke-linejoin="miter"/>
<polyline points="91,534 86.7,537.6 89.7,540.7 94.5,540 96.3,542.4 100.4,544.8 102.3,547.2 101,551.4 102.3,561 105.2,568.1 108.8,574.7 112.4,580.1 112.9,583.7 111.2,586 113.5,586.6 114.4,590.2 111.2,590.8 103.5,593.8 101.6,595.6 107.6,598.2 107,599.7 98.1,600.9 96.9,604 94.8,606.9 96.3,609.9 98.1,611.1 96.3,613.5 98.7,618.8 90.9,620.7 88.5,624.8 85.6,626.1 83.1,629 76,630.8 70.6,632 59.5,636.8" fill="none" stroke="#0a0a0a" stroke-width="1.9" stroke-linejoin="round" clip-path="url(#frc)"/>
<polyline points="59.5,860 62.1,856.7 67.8,855.9 75.4,855.5 83,854.5 86,852 86.5,844.4 89.8,842.4 91.6,837.6 96.4,832 99.3,828.1 103.2,825.8 107,826.2 110.8,828.1 119.4,829 122.2,826.6 126,828.1 132.7,829 137.5,832 144.1,830.4 150.9,828.1 153.7,824.2 160.4,821.4 163.3,818.2 168.1,817.6 172.8,819.5 178.6,818.2 180.5,820.4 181.4,825.2 186.2,827.2 197.6,828.1 204.4,827.8 211,826.8 216.8,827.8 222.5,826.2 227.3,822.4 234.9,820 242.5,816.6 249.3,815.5 262.1,815.7 271.7,812.9 278.3,805.2 286.9,801.8 294.5,800.4 304.1,799.4 311.7,796.6 315.6,795.6 317.4,797.6 325,796.6 332.8,795.6 340.4,794.2 348,794.2 351.8,795.6 356.6,799.1 361.4,797.6 369,801 371.9,800.4 380.5,804.2 387.1,806.6 391.9,806.2 394.2,800.4 397.7,801.4 403.4,803.3 413,804.2 418.6,806.2 421.6,808.1 424.3,806" fill="none" stroke="#0a0a0a" stroke-width="1.9" stroke-linejoin="round" clip-path="url(#frc)"/>
<polyline points="424.3,726.4 414.8,727.8 409.1,731.6 398.6,734.4 398.6,736.4 403.4,744 408.2,749.8 406.3,752.6 409.1,755.5 416.8,758.3 421.6,762.7 424.3,763.7" fill="none" stroke="#0a0a0a" stroke-width="1.9" stroke-linejoin="round" clip-path="url(#frc)"/>
<polyline points="424.3,780.7 418.6,781.3 415.8,785.1 416.8,790.3 424.3,791.8" fill="none" stroke="#0a0a0a" stroke-width="1.9" stroke-linejoin="round" clip-path="url(#frc)"/>
<rect x="317" y="717.4" width="106.8" height="150.6" fill="#fff"/>
<text x="318.5" y="737.7" style="font-family:'Liberation Serif',serif;fill:#1a1a1a;font-size:20px">Class Index</text>
<rect x="320.5" y="756" width="40.5" height="20.3" fill="#055ce9" stroke="#7a7a7a" stroke-width="0.8"/>
<text x="370" y="772.3" style="font-family:'Liberation Serif',serif;fill:#1a1a1a;font-size:18px">NaN</text>
<rect x="320.5" y="783.6" width="40.5" height="20.3" fill="#00ffd8" stroke="#7a7a7a" stroke-width="0.8"/>
<text x="368" y="799.9" style="font-family:'Liberation Serif',serif;fill:#1a1a1a;font-size:18px">1: SNA</text>
<rect x="320.5" y="811.2" width="40.5" height="20.3" fill="#0b4f78" stroke="#7a7a7a" stroke-width="0.8"/>
<text x="368" y="827.5" style="font-family:'Liberation Serif',serif;fill:#1a1a1a;font-size:18px">2: SAB</text>
<rect x="320.5" y="838.4" width="40.5" height="20.3" fill="#ff0000" stroke="#7a7a7a" stroke-width="0.8"/>
<text x="376.5" y="854.7" style="font-family:'Liberation Serif',serif;fill:#1a1a1a;font-size:18px">3: NS</text>
<rect x="59.5" y="535" width="364.8" height="333.5" fill="none" stroke="#4a4a54" stroke-width="1.4"/>
<path d="M424.2 530V535M59.5 868.5V873.5M424.2 868.5V873.5" stroke="#4a4a54" stroke-width="1.4" fill="none"/>
<text x="181.1" y="524.5" text-anchor="middle" style="font-family:'Liberation Sans',sans-serif;font-size:20.6px;fill:#17178f">83° E</text>
<text x="302.7" y="524.5" text-anchor="middle" style="font-family:'Liberation Sans',sans-serif;font-size:20.6px;fill:#17178f">87° E</text>
<text x="424.2" y="524.5" text-anchor="middle" style="font-family:'Liberation Sans',sans-serif;font-size:20.6px;fill:#17178f">91° E</text>
<text x="59.5" y="892.7" text-anchor="middle" style="font-family:'Liberation Sans',sans-serif;font-size:20.6px;fill:#17178f">79° E</text>
<text x="181.1" y="892.7" text-anchor="middle" style="font-family:'Liberation Sans',sans-serif;font-size:20.6px;fill:#17178f">83° E</text>
<text x="302.7" y="892.7" text-anchor="middle" style="font-family:'Liberation Sans',sans-serif;font-size:20.6px;fill:#17178f">87° E</text>
<text x="424.2" y="892.7" text-anchor="middle" style="font-family:'Liberation Sans',sans-serif;font-size:20.6px;fill:#17178f">91° E</text>
<text transform="translate(50 595.6) rotate(-90)" text-anchor="middle" style="font-family:'Liberation Sans',sans-serif;font-size:20.6px;fill:#17178f">43° N</text>
<text transform="translate(449 595.6) rotate(-90)" text-anchor="middle" style="font-family:'Liberation Sans',sans-serif;font-size:20.6px;fill:#17178f">43° N</text>
<text transform="translate(50 716.9) rotate(-90)" text-anchor="middle" style="font-family:'Liberation Sans',sans-serif;font-size:20.6px;fill:#17178f">39° N</text>
<text transform="translate(449 716.9) rotate(-90)" text-anchor="middle" style="font-family:'Liberation Sans',sans-serif;font-size:20.6px;fill:#17178f">39° N</text>
<text transform="translate(50 838.2) rotate(-90)" text-anchor="middle" style="font-family:'Liberation Sans',sans-serif;font-size:20.6px;fill:#17178f">35° N</text>
<text transform="translate(449 838.2) rotate(-90)" text-anchor="middle" style="font-family:'Liberation Sans',sans-serif;font-size:20.6px;fill:#17178f">35° N</text>
<text x="0" y="0" transform="translate(0 498) scale(1 1.2)" style="font-family:'Liberation Mono',monospace;font-size:19.46px;fill:#0c0c0c">(c) MISR Aerosol Type Class 20140424 0500 UTC</text>
</g>
<g id="pd">
<path d="M692.6 533.2V866M821.9 533.2V866M563.2 593.8H951.2M563.2 714.8H951.2M563.2 835.8H951.2" stroke="#a6a6a6" stroke-opacity="1" stroke-width="1.2" fill="none"/>
<path d="M692.6 528.2V533.2M692.6 866V871M821.9 528.2V533.2M821.9 866V871M558.2 593.8H563.2M951.2 593.8H956.2M558.2 714.8H563.2M951.2 714.8H956.2M558.2 835.8H563.2M951.2 835.8H956.2" stroke="#4a4870" stroke-width="1.2" fill="none"/>
<polygon points="910.8,534.2 910.8,539.8 904.9,539.8 904.9,545.3 904.9,545.3 904.9,550.8 904.9,550.8 904.9,556.3 899.1,556.3 899.1,561.9 899.1,561.9 899.1,567.4 899.1,567.4 899.1,572.9 893.2,572.9 893.2,578.4 893.2,578.4 893.2,583.9 893.2,583.9 893.2,589.5 887.4,589.5 887.4,595 887.4,595 887.4,600.5 881.5,600.5 881.5,606 881.5,606 881.5,611.5 881.5,611.5 881.5,617.1 875.7,617.1 875.7,622.6 875.7,622.6 875.7,628.1 875.7,628.1 875.7,633.6 869.8,633.6 869.8,639.1 869.8,639.1 869.8,644.7 869.8,644.7 869.8,650.2 864,650.2 864,655.7 864,655.7 864,661.2 858.1,661.2 858.1,666.7 858.1,666.7 858.1,672.3 858.1,672.3 858.1,677.8 852.3,677.8 852.3,683.3 852.3,683.3 852.3,688.8 852.3,688.8 852.3,694.4 846.4,694.4 846.4,699.9 846.4,699.9 846.4,705.4 840.6,705.4 840.6,710.9 840.6,710.9 840.6,716.4 840.6,716.4 840.6,722 834.7,722 834.7,727.5 834.7,727.5 834.7,733 834.7,733 834.7,738.5 828.9,738.5 828.9,744 828.9,744 828.9,749.6 828.9,749.6 828.9,755.1 823,755.1 823,760.6 823,760.6 823,766.1 817.2,766.1 817.2,771.6 817.2,771.6 817.2,777.2 817.2,777.2 817.2,782.7 811.3,782.7 811.3,788.2 811.3,788.2 811.3,793.7 811.3,793.7 811.3,799.3 805.5,799.3 805.5,804.8 805.5,804.8 805.5,810.3 805.5,810.3 805.5,815.8 799.6,815.8 799.6,821.3 799.6,821.3 799.6,826.9 793.8,826.9 793.8,832.4 793.8,832.4 793.8,837.9 793.8,837.9 793.8,843.4 787.9,843.4 787.9,848.9 787.9,848.9 787.9,854.5 787.9,854.5 787.9,860 782.1,860 782.1,865.5 583.1,865.5 583.1,860 583.1,860 583.1,854.5 583.1,854.5 583.1,848.9 589,848.9 589,843.4 589,843.4 589,837.9 589,837.9 589,832.4 589,832.4 589,826.9 594.8,826.9 594.8,821.3 594.8,821.3 594.8,815.8 594.8,815.8 594.8,810.3 594.8,810.3 594.8,804.8 600.7,804.8 600.7,799.3 600.7,799.3 600.7,793.7 600.7,793.7 600.7,788.2 600.7,788.2 600.7,782.7 606.5,782.7 606.5,777.2 606.5,777.2 606.5,771.6 606.5,771.6 606.5,766.1 612.4,766.1 612.4,760.6 612.4,760.6 612.4,755.1 612.4,755.1 612.4,749.6 612.4,749.6 612.4,744 618.2,744 618.2,738.5 618.2,738.5 618.2,733 618.2,733 618.2,727.5 618.2,727.5 618.2,722 624.1,722 624.1,716.4 624.1,716.4 624.1,710.9 624.1,710.9 624.1,705.4 629.9,705.4 629.9,699.9 629.9,699.9 629.9,694.4 629.9,694.4 629.9,688.8 629.9,688.8 629.9,683.3 635.8,683.3 635.8,677.8 635.8,677.8 635.8,672.3 635.8,672.3 635.8,666.7 635.8,666.7 635.8,661.2 641.6,661.2 641.6,655.7 641.6,655.7 641.6,650.2 641.6,650.2 641.6,644.7 641.6,644.7 641.6,639.1 647.5,639.1 647.5,633.6 647.5,633.6 647.5,628.1 647.5,628.1 647.5,622.6 653.3,622.6 653.3,617.1 653.3,617.1 653.3,611.5 653.3,611.5 653.3,606 653.3,606 653.3,600.5 659.2,600.5 659.2,595 659.2,595 659.2,589.5 659.2,589.5 659.2,583.9 659.2,583.9 659.2,578.4 665.1,578.4 665.1,572.9 665.1,572.9 665.1,567.4 665.1,567.4 665.1,561.9 670.9,561.9 670.9,556.3 670.9,556.3 670.9,550.8 670.9,550.8 670.9,545.3 670.9,545.3 670.9,539.8 676.8,539.8 676.8,534.2" fill="#055ce9"/>
<polygon points="711,536.1 716.8,536.1 716.8,549.4 711,549.4" fill="#00ff14"/>
<polygon points="705.2,543.9 711,543.9 711,565.8 705.2,565.8" fill="#00ff14"/>
<polygon points="722.7,536.1 744.4,536.1 744.4,554.1 739.3,554.1 739.3,570.5 728.5,570.5 728.5,565.8 716.8,565.8 716.8,560.3 722.7,560.3" fill="#ff0000"/>
<polygon points="746,536.1 802.7,536.1 802.7,554.8 796.9,554.8 796.9,576 785.2,576 785.2,570.5 739.3,570.5 739.3,554.8 745.2,554.8" fill="#00ff14"/>
<polygon points="807.7,536.1 825.2,536.1 825.2,554.8 819.4,554.8 819.4,576 801.9,576 801.9,565.8 807.7,565.8" fill="#00ff14"/>
<polygon points="711,602.5 716.8,602.5 716.8,608 739.3,608 739.3,613.5 734.3,613.5 734.3,629.9 728.5,629.9 728.5,640.1 722.7,640.1 722.7,645.6 700.2,645.6 700.2,629.9 705.2,629.9 705.2,613.5 711,613.5" fill="#00ff14"/>
<polygon points="739.3,608 751,608 751,619 745.2,619 745.2,634.6 739.3,634.6 739.3,644.8 722.7,644.8 722.7,640.1 728.5,640.1 728.5,629.9 734.3,629.9 734.3,613.5 739.3,613.5" fill="#ff0000"/>
<polygon points="830.9,537.6 847.6,537.6 847.6,543.9 830.9,543.9" fill="#0a6a3a"/>
<polygon points="830.9,543.9 836.8,543.9 836.8,565.8 830.9,565.8" fill="#0a6a3a"/>
<polygon points="825.1,560.3 830.9,560.3 830.9,581.4 825.1,581.4" fill="#0a6a3a"/>
<polygon points="819.2,581.4 825.1,581.4 825.1,597.4 819.2,597.4" fill="#0a6a3a"/>
<polygon points="813.4,592.4 819.2,592.4 819.2,608.8 813.4,608.8" fill="#0a6a3a"/>
<polygon points="807.6,608 814.2,608 814.2,614.3 807.6,614.3" fill="#0a6a3a"/>
<polygon points="790.9,613.5 797.1,613.5 797.1,630.2 790.9,630.2" fill="#0a6a3a"/>
<polygon points="785.1,624.4 791.2,624.4 791.2,645.9 785.1,645.9" fill="#0a6a3a"/>
<polygon points="779.2,640.1 785.4,640.1 785.4,650.6 779.2,650.6" fill="#0a6a3a"/>
<polygon points="853.4,537.6 859.3,537.6 859.3,543.9 853.4,543.9" fill="#0a6a3a"/>
<polygon points="859.3,543.9 864.3,543.9 864.3,565.8 859.3,565.8" fill="#0a6a3a"/>
<polygon points="853.4,560.3 859.3,560.3 859.3,582.2 853.4,582.2" fill="#0a6a3a"/>
<polygon points="858.4,536.1 870.1,536.1 870.1,543.9 858.4,543.9" fill="#00ff14"/>
<polygon points="825.1,581.4 858.4,581.4 858.4,586.9 853.4,586.9 853.4,597.1 847.6,597.1 847.6,608 842.6,608 842.6,618.2 825.1,618.2 825.1,629.1 819.2,629.1 819.2,640.1 814.2,640.1 814.2,656.5 819.2,656.5 819.2,661.2 814.2,661.2 814.2,672 785.1,672 785.1,662 790.9,662 790.9,650.2 785.1,650.2 785.1,645.6 790.9,645.6 790.9,629.1 796.7,629.1 796.7,613.5 813.4,613.5 813.4,608 819.2,608 819.2,597.1 825.1,597.1" fill="#ff0000"/>
<polygon points="784.8,669.3 814,669.3 814,672.4 808.2,672.4 808.2,688.1 802.3,688.1 802.3,692.7 790.7,692.7 790.7,688.1 779,688.1 779,677.9 784.8,677.9" fill="#ff0000"/>
<polygon points="802.7,693.5 807.3,693.5 807.3,703.7 802.7,703.7" fill="#ff0000"/>
<polygon points="797,698.2 802.7,698.2 802.7,719.6 797,719.6" fill="#ff0000"/>
<polygon points="791.2,714.6 797.7,714.6 797.7,736.2 791.2,736.2" fill="#ff0000"/>
<polygon points="784.8,731.1 791.2,731.1 791.2,762.8 784.8,762.8" fill="#ff0000"/>
<polygon points="779,757.7 785.3,757.7 785.3,767.8 779,767.8" fill="#ff0000"/>
<polygon points="768.2,688.1 773.2,688.1 773.2,703.7 768.2,703.7" fill="#ff0000"/>
<polygon points="762.3,698.2 768.2,698.2 768.2,715 762.3,715" fill="#ff0000"/>
<polygon points="756.5,715 767.3,715 767.3,724 756.5,724" fill="#ff0000"/>
<polygon points="762.3,724 767.3,724 767.3,741.5 762.3,741.5" fill="#ff0000"/>
<polygon points="756.5,741.2 762.3,741.2 762.3,768.6 756.5,768.6" fill="#ff0000"/>
<polygon points="750.7,767.8 773.2,767.8 773.2,781.7 750.7,781.7" fill="#ff0000"/>
<polygon points="750.7,645.8 755.7,645.8 755.7,661.5 750.7,661.5" fill="#ff0000"/>
<polygon points="744.8,656 750.7,656 750.7,672.4 744.8,672.4" fill="#ff0000"/>
<polygon points="739.8,672.4 744.8,672.4 744.8,687.3 739.8,687.3" fill="#ff0000"/>
<polygon points="739.8,725.6 750.7,725.6 750.7,731.1 739.8,731.1" fill="#ff0000"/>
<polygon points="739.8,731.1 744.8,731.1 744.8,762.3 739.8,762.3" fill="#ff0000"/>
<polygon points="734,756.9 739.8,756.9 739.8,762.3 734,762.3" fill="#ff0000"/>
<polygon points="648,720.1 653.8,720.1 653.8,752.2 648,752.2" fill="#00ff14"/>
<polygon points="653.8,715.4 659.7,715.4 659.7,724.8 653.8,724.8" fill="#00ff14"/>
<polygon points="683,640.4 698.9,640.4 698.9,645.8 711.4,645.8 711.4,650.5 705.5,650.5 705.5,666.9 699.7,666.9 699.7,682.6 693,682.6 693,698.2 688,698.2 688,714.6 682.2,714.6 682.2,720.1 665.5,720.1 665.5,730.3 659.7,730.3 659.7,756.9 653.8,756.9 653.8,725.6 659.7,725.6 659.7,704.5 665.5,704.5 665.5,688.1 671.4,688.1 671.4,666.9 677.2,666.9 677.2,651.3 683,651.3" fill="#ff0000"/>
<polygon points="694.4,646.6 698.9,646.6 698.9,661.5 694.4,661.5" fill="#055ce9"/>
<polygon points="689.7,661.5 693,661.5 693,676.3 689.7,676.3" fill="#055ce9"/>
<polygon points="683,678 687,678 687,681.8 683,681.8" fill="#055ce9"/>
<polygon points="722.2,720.1 728,720.1 728,747.5 722.2,747.5" fill="#ff0000"/>
<polygon points="716.4,741.2 722.2,741.2 722.2,762.3 716.4,762.3" fill="#ff0000"/>
<polygon points="643,794.9 659.7,794.9 659.7,800.3 653.8,800.3 653.8,821.5 648,821.5 648,831.6 637.1,831.6 637.1,816 643,816" fill="#00ff14"/>
<polygon points="700.5,800.3 716.3,800.3 716.3,816 700.5,816" fill="#0a6a3a"/>
<polygon points="694.7,816 705.5,816 705.5,835.5 694.7,835.5" fill="#0a6a3a"/>
<polygon points="704.7,815.2 711.7,815.2 711.7,823 704.7,823" fill="#0a6a3a"/>
<polygon points="716.3,800.3 722.2,800.3 722.2,810.5 716.3,810.5" fill="#00ff14"/>
<polygon points="711.3,805.8 716.3,805.8 716.3,823 711.3,823" fill="#00ff14"/>
<polygon points="705.5,822.2 711.3,822.2 711.3,837.9 705.5,837.9" fill="#00ff14"/>
<polygon points="750.6,768.3 773.1,768.3 773.1,773 767.3,773 767.3,788.6 761.5,788.6 761.5,805 750.6,805 750.6,800.3 744.8,800.3 744.8,783.9 750.6,783.9" fill="#ff0000"/>
<polygon points="756.5,742.5 761.5,742.5 761.5,769.1 756.5,769.1" fill="#ff0000"/>
<polygon points="761.5,737.8 767.3,737.8 767.3,746.4 761.5,746.4" fill="#ff0000"/>
<polygon points="716.4,742.5 722.3,742.5 722.3,762 716.4,762" fill="#ff0000"/>
<polygon points="722.3,737.8 727.3,737.8 727.3,745.6 722.3,745.6" fill="#ff0000"/>
<polygon points="739.8,737.8 744.8,737.8 744.8,762 739.8,762" fill="#ff0000"/>
<polygon points="733.9,757.3 739.8,757.3 739.8,762 733.9,762" fill="#ff0000"/>
<polygon points="784.8,737.8 790.6,737.8 790.6,762 784.8,762" fill="#ff0000"/>
<polygon points="779,757.3 784.8,757.3 784.8,767.5 779,767.5" fill="#ff0000"/>
<polygon points="711.5,536.3 717,536.3 717,548.8 711.5,548.8" fill="#ffa60a"/>
<polygon points="706.1,544.1 711.5,544.1 711.5,559.8 706.1,559.8" fill="#ffa60a"/>
<polygon points="722.5,536.3 744.5,536.3 744.5,544.1 722.5,544.1" fill="#e81ee8"/>
<polygon points="739,544.1 744.5,544.1 744.5,553.5 739,553.5" fill="#e81ee8"/>
<polygon points="728.8,565.3 739,565.3 739,570 728.8,570" fill="#e81ee8"/>
<polygon points="756.2,536.3 762.5,536.3 762.5,550.4 756.2,550.4" fill="#ffa60a"/>
<polygon points="745.2,549.6 760.9,549.6 760.9,555.1 745.2,555.1" fill="#ffa60a"/>
<polygon points="739.7,555.1 751.5,555.1 751.5,560.6 739.7,560.6" fill="#ffa60a"/>
<polygon points="762.5,534.7 786,534.7 786,537.8 762.5,537.8" fill="#ffa60a"/>
<polygon points="798.5,534.7 830,534.7 830,538.2 798.5,538.2" fill="#ffa60a"/>
<polygon points="711.5,602.9 717,602.9 717,608.4 711.5,608.4" fill="#ffa60a"/>
<polygon points="723.3,608.4 734.3,608.4 734.3,617.8 723.3,617.8" fill="#ffa60a"/>
<polygon points="706.1,619.3 711.5,619.3 711.5,623.3 733.5,623.3 733.5,630.3 728,630.3 728,639.7 722.5,639.7 722.5,644.4 699.8,644.4 699.8,630.3 706.1,630.3" fill="#ffa60a"/>
<polygon points="739.7,608.4 751.5,608.4 751.5,617.8 739.7,617.8" fill="#e81ee8"/>
<polygon points="734.3,613.1 745.2,613.1 745.2,624 734.3,624" fill="#e81ee8"/>
<polygon points="825.2,581.7 830,581.7 830,592.7 825.2,592.7" fill="#e81ee8"/>
<polygon points="819.7,597.4 825.2,597.4 825.2,613.1 819.7,613.1" fill="#e81ee8"/>
<polygon points="797,613.9 802.4,613.9 802.4,618.6 797,618.6" fill="#e81ee8"/>
<polygon points="807.9,624 819.7,624 819.7,629.5 807.9,629.5" fill="#e81ee8"/>
<polygon points="813.4,619.3 825.2,619.3 825.2,624 813.4,624" fill="#e81ee8"/>
<polygon points="791.5,613.9 797,613.9 797,618.6 791.5,618.6" fill="#d4aa3c"/>
<polygon points="786,624 797,624 797,630.3 786,630.3" fill="#d4aa3c"/>
<polygon points="786,630.3 791.5,630.3 791.5,639.7 786,639.7" fill="#d4aa3c"/>
<polygon points="779.7,639.7 786,639.7 786,649.9 779.7,649.9" fill="#d4aa3c"/>
<polygon points="859.3,539.1 870.3,539.1 870.3,544.4 859.3,544.4" fill="#ffa60a"/>
<polygon points="864,536.3 870.3,536.3 870.3,539.1 864,539.1" fill="#00ff14"/>
<polygon points="859,544.1 865,544.1 865,565.4 859,565.4" fill="#d4aa3c"/>
<polygon points="853.5,560.6 865,560.6 865,565.4 853.5,565.4" fill="#d4aa3c"/>
<polygon points="825.6,581.7 848.4,581.7 848.4,587.2 853.9,587.2 853.9,592.7 842.1,592.7 842.1,597.4 831.1,597.4 831.1,602.9 824.9,602.9 824.9,613.1 820.2,613.1 820.2,597.4 825.6,597.4" fill="#e81ee8"/>
<polygon points="796.6,613.9 802.9,613.9 802.9,618.6 796.6,618.6" fill="#e81ee8"/>
<polygon points="808.4,624 820.2,624 820.2,629.5 808.4,629.5" fill="#e81ee8"/>
<polygon points="813.9,618.6 824.9,618.6 824.9,624 813.9,624" fill="#e81ee8"/>
<polygon points="790.8,613.9 796.6,613.9 796.6,618.6 790.8,618.6" fill="#d4aa3c"/>
<polygon points="785.4,624 796.6,624 796.6,629.5 785.4,629.5" fill="#d4aa3c"/>
<polygon points="785.4,629.5 791.2,629.5 791.2,640.5 785.4,640.5" fill="#d4aa3c"/>
<polygon points="779.1,640.5 785.7,640.5 785.7,650.4 779.1,650.4" fill="#d4aa3c"/>
<polygon points="785.4,639.7 791.2,639.7 791.2,646.3 785.4,646.3" fill="#d4aa3c"/>
<polygon points="648.9,720.7 654.2,720.7 654.2,746.9 648.9,746.9" fill="#ffa60a"/>
<polygon points="654.2,715.2 659.9,715.2 659.9,725.4 654.2,725.4" fill="#ffa60a"/>
<polygon points="648.9,746.6 654.2,746.6 654.2,752.2 648.9,752.2" fill="#00ff14"/>
<polygon points="654.2,747.4 659.9,747.4 659.9,757.2 654.2,757.2" fill="#e81ee8"/>
<polygon points="716.8,752.1 723,752.1 723,762.6 716.8,762.6" fill="#e81ee8"/>
<polygon points="751.3,773.7 756.8,773.7 756.8,778.4 751.3,778.4" fill="#e81ee8"/>
<polygon points="751.3,778.4 767.8,778.4 767.8,787 751.3,787" fill="#e81ee8"/>
<polygon points="745.8,784.7 761.5,784.7 761.5,794.1 745.8,794.1" fill="#e81ee8"/>
<polygon points="756.8,800.3 762.3,800.3 762.3,805 756.8,805" fill="#e81ee8"/>
<circle cx="771.1" cy="557.4" r="2.6" fill="#ffa60a"/>
<circle cx="748.4" cy="567.3" r="2.6" fill="#ffa60a"/>
<circle cx="759.3" cy="567.3" r="2.6" fill="#ffa60a"/>
<circle cx="771.6" cy="557.4" r="2.6" fill="#ffa60a"/>
<path d="M692.6 533.2V866M821.9 533.2V866M563.2 593.8H951.2M563.2 714.8H951.2M563.2 835.8H951.2" stroke="#003a6a" stroke-opacity="0.3" stroke-width="1.2" fill="none" clip-path="url(#swd)"/>
<polygon points="677.1,534.8 908.9,534.8 784.7,865.3 577.2,865.3" fill="none" stroke="#e9a01c" stroke-width="2.6" stroke-linejoin="miter"/>
<polyline points="596.8,532.3 592.2,535.9 595.3,538.9 600.4,538.2 602.4,540.7 606.8,543 608.8,545.5 607.4,549.6 608.8,559.1 611.9,566.3 615.7,572.8 619.5,578.2 620.1,581.8 618.2,584.2 620.7,584.8 621.7,588.4 618.2,589 610,591.9 608,593.7 614.4,596.3 613.8,597.8 604.3,599 603,602 600.7,605 602.4,608 604.3,609.2 602.4,611.5 604.9,616.9 596.7,618.8 594.1,622.9 591,624.1 588.4,627.1 580.8,628.8 575.1,630 563.2,634.8" fill="none" stroke="#0a0a0a" stroke-width="1.9" stroke-linejoin="round" clip-path="url(#frd)"/>
<polyline points="563.2,857.5 566,854.3 572,853.4 580.2,853 588.3,852 591.4,849.6 592,842 595.4,840 597.4,835.2 602.5,829.5 605.5,825.7 609.7,823.4 613.8,823.8 617.8,825.7 627,826.6 630,824.2 634,825.7 641.1,826.6 646.2,829.5 653.3,828 660.5,825.7 663.5,821.8 670.5,819 673.7,815.8 678.8,815.2 683.8,817.1 689.9,815.8 692,818 692.9,822.8 698,824.8 710.2,825.7 717.4,825.3 724.4,824.4 730.6,825.3 736.6,823.8 741.7,820 749.8,817.6 757.9,814.2 765.1,813.1 778.7,813.3 788.9,810.5 796,802.9 805.2,799.4 813.3,798.1 823.5,797.1 831.6,794.3 835.6,793.3 837.6,795.2 845.7,794.3 853.9,793.3 862.1,791.8 870.2,791.8 874.2,793.3 879.3,796.7 884.4,795.2 892.5,798.7 895.5,798.1 904.7,801.9 911.8,804.2 916.9,803.8 919.3,798.1 923,799.1 929,800.9 939.2,801.9 945.3,803.8 948.4,805.7 951.3,803.7" fill="none" stroke="#0a0a0a" stroke-width="1.9" stroke-linejoin="round" clip-path="url(#frd)"/>
<polyline points="951.3,724.2 941.2,725.6 935.2,729.4 923.9,732.2 923.9,734.2 929,741.8 934.1,747.6 932.2,750.4 935.2,753.2 943.3,756.1 948.4,760.5 951.3,761.4" fill="none" stroke="#0a0a0a" stroke-width="1.9" stroke-linejoin="round" clip-path="url(#frd)"/>
<polyline points="951.3,778.4 945.3,779 942.3,782.8 943.3,788 951.3,789.5" fill="none" stroke="#0a0a0a" stroke-width="1.9" stroke-linejoin="round" clip-path="url(#frd)"/>
<rect x="563.2" y="533.2" width="388" height="332.8" fill="none" stroke="#74729c" stroke-width="1.2"/>
<path d="M951.2 528.2V533.2M563.2 866V871M951.2 866V871" stroke="#74729c" stroke-width="1.2" fill="none"/>
<rect x="817" y="700" width="207" height="165.4" fill="#fff"/>
<rect x="952" y="866.6" width="72" height="6" fill="#fff"/>
<text x="824" y="722" textLength="50" lengthAdjust="spacing" style="font-family:'Liberation Serif',serif;fill:#1a1a1a;font-size:17.5px">Legend</text>
<rect x="869.3" y="739.5" width="40" height="22" fill="#ffa60a" stroke="#8a7a6a" stroke-width="0.8"/>
<rect x="914.3" y="739.5" width="40" height="22" fill="#d4aa3c" stroke="#8a7a6a" stroke-width="0.8"/>
<rect x="960.5" y="739.5" width="40" height="22" fill="#ff0000" stroke="#8a7a6a" stroke-width="0.8"/>
<rect x="869.3" y="769.2" width="40" height="22" fill="#dcec14" stroke="#8a7a6a" stroke-width="0.8"/>
<rect x="914.3" y="769.2" width="40" height="22" fill="#08d2f0" stroke="#8a7a6a" stroke-width="0.8"/>
<rect x="960.5" y="769.2" width="40" height="22" fill="#14c8b4" stroke="#8a7a6a" stroke-width="0.8"/>
<rect x="869.3" y="798.5" width="40" height="22" fill="#00ff14" stroke="#8a7a6a" stroke-width="0.8"/>
<rect x="914.3" y="798.5" width="40" height="22" fill="#0a6a3a" stroke="#8a7a6a" stroke-width="0.8"/>
<rect x="960.5" y="798.5" width="40" height="22" fill="#e81ee8" stroke="#8a7a6a" stroke-width="0.8"/>
<text x="863" y="755" text-anchor="end" textLength="14" lengthAdjust="spacingAndGlyphs" style="font-family:'Liberation Serif',serif;fill:#1a1a1a;font-size:15px">NS</text>
<text x="863" y="785" text-anchor="end" textLength="20.5" lengthAdjust="spacingAndGlyphs" style="font-family:'Liberation Serif',serif;fill:#1a1a1a;font-size:15px">SAB</text>
<text x="863" y="819.5" text-anchor="end" textLength="20.5" lengthAdjust="spacingAndGlyphs" style="font-family:'Liberation Serif',serif;fill:#1a1a1a;font-size:15px">SNA</text>
<text x="877.5" y="837.8" textLength="21" lengthAdjust="spacingAndGlyphs" style="font-family:'Liberation Serif',serif;fill:#1a1a1a;font-size:15px">SNA</text>
<text x="926" y="837.8" textLength="21" lengthAdjust="spacingAndGlyphs" style="font-family:'Liberation Serif',serif;fill:#1a1a1a;font-size:15px">SAB</text>
<text x="976.8" y="837.8" textLength="13.2" lengthAdjust="spacingAndGlyphs" style="font-family:'Liberation Serif',serif;fill:#1a1a1a;font-size:15px">NS</text>
<text x="920.5" y="858.5" textLength="33.5" lengthAdjust="spacingAndGlyphs" style="font-family:'Liberation Serif',serif;fill:#1a1a1a;font-size:18px">MISR</text>
<text transform="translate(823.5 750) rotate(90)" textLength="64" lengthAdjust="spacingAndGlyphs" style="font-family:'Liberation Serif',serif;fill:#1a1a1a;font-size:16.5px;font-weight:bold">INSAT3D</text>
<line x1="812" y1="908" x2="960" y2="908" stroke="#e4e4e4" stroke-width="1.5"/>
<text x="692.6" y="523" text-anchor="middle" style="font-family:'Liberation Sans',sans-serif;font-size:21.7px;fill:#17178f">83° E</text>
<text x="821.9" y="523" text-anchor="middle" style="font-family:'Liberation Sans',sans-serif;font-size:21.7px;fill:#17178f">87° E</text>
<text x="951.2" y="523" text-anchor="middle" style="font-family:'Liberation Sans',sans-serif;font-size:21.7px;fill:#17178f">91° E</text>
<text x="563.2" y="889.7" text-anchor="middle" style="font-family:'Liberation Sans',sans-serif;font-size:21.7px;fill:#17178f">79° E</text>
<text x="692.6" y="889.7" text-anchor="middle" style="font-family:'Liberation Sans',sans-serif;font-size:21.7px;fill:#17178f">83° E</text>
<text x="821.9" y="889.7" text-anchor="middle" style="font-family:'Liberation Sans',sans-serif;font-size:21.7px;fill:#17178f">87° E</text>
<text x="951.2" y="889.7" text-anchor="middle" style="font-family:'Liberation Sans',sans-serif;font-size:21.7px;fill:#17178f">91° E</text>
<text transform="translate(552 593.8) rotate(-90)" text-anchor="middle" style="font-family:'Liberation Sans',sans-serif;font-size:21.7px;fill:#17178f">43° N</text>
<text transform="translate(976 593.8) rotate(-90)" text-anchor="middle" style="font-family:'Liberation Sans',sans-serif;font-size:21.7px;fill:#17178f">43° N</text>
<text transform="translate(552 714.8) rotate(-90)" text-anchor="middle" style="font-family:'Liberation Sans',sans-serif;font-size:21.7px;fill:#17178f">39° N</text>
<text transform="translate(552 835.8) rotate(-90)" text-anchor="middle" style="font-family:'Liberation Sans',sans-serif;font-size:21.7px;fill:#17178f">35° N</text>
<text x="592" y="0" transform="translate(0 498.7) scale(1 1.2)" style="font-family:'Liberation Mono',monospace;font-size:18.25px;fill:#0c0c0c">(d)INSAT3D MISR Aerosol Type Comparison</text>
</g>
</svg>
</body></html>
